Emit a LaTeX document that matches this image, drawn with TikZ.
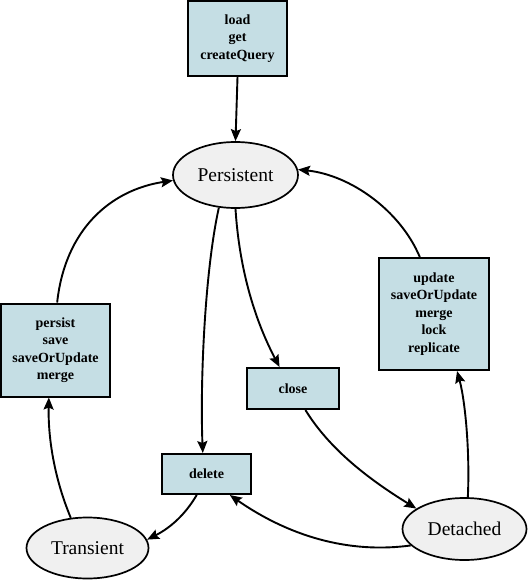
\documentclass[tikz,border=0pt]{standalone}
\usepackage{fontspec}
\setmainfont{Liberation Serif}
\usetikzlibrary{arrows.meta, shapes.geometric}
\definecolor{boxBlue}{RGB}{197,222,228}
\definecolor{stateGray}{RGB}{240,240,240}
\begin{document}
\begin{tikzpicture}[x=1pt, y=-1pt,
    opBox/.style={draw=black, line width=2pt, fill=boxBlue, inner sep=0pt, align=center,
        font=\fontsize{14}{17.5}\selectfont\bfseries},
    stateOval/.style={draw=black, line width=1.7pt, fill=stateGray, ellipse, inner sep=0pt,
        font=\fontsize{19.5}{23}\selectfont},
    flow/.style={line width=1.9pt, -{Stealth[length=12pt, width=10pt, inset=2pt]}}]
\useasboundingbox (0,0) rectangle (527,580);

\node[opBox, minimum width=99pt, minimum height=75pt] (loadBox) at (237.5,38.5) {load\\get\\createQuery};
\node[stateOval, minimum width=125pt, minimum height=66pt] (persistentState) at (235.5,175) {Persistent};
\node[opBox, minimum width=109pt, minimum height=93pt] (persistBox) at (55.5,350) {persist\\save\\saveOrUpdate\\merge};
\node[opBox, minimum width=89pt, minimum height=40pt] (deleteBox) at (206.5,474) {delete};
\node[opBox, minimum width=92pt, minimum height=41pt] (closeBox) at (293,388.5) {close};
\node[opBox, minimum width=110pt, minimum height=112pt] (updateBox) at (434,314) {update\\saveOrUpdate\\merge\\lock\\replicate};
\node[stateOval, minimum width=122pt, minimum height=61pt] (transientState) at (87.5,548) {Transient};
\node[stateOval, minimum width=124pt, minimum height=62pt] (detachedState) at (464.5,529) {Detached};

\draw[flow] (loadBox.south) -- (persistentState.north);
\draw[flow] (persistentState.243) .. controls (205,270) and (200,380) .. (deleteBox.100);
\draw[flow] (persistentState.south) .. controls (240,280) and (260,330) .. (closeBox.122);
\draw[flow] (closeBox.300) .. controls (330,450) and (370,480) .. (detachedState.157);
\draw[flow] (detachedState.197) .. controls (340,555) and (280,530) .. (deleteBox.318);
\draw[flow] (deleteBox.245) .. controls (185,515) and (170,528) .. (transientState.8);
\draw[flow] (transientState.119) .. controls (55,480) and (48,440) .. (persistBox.262);
\draw[flow] (persistBox.88) .. controls (65,230) and (110,190) .. (persistentState.185);
\draw[flow] (detachedState.84) .. controls (470,450) and (465,400) .. (updateBox.292);
\draw[flow] (updateBox.104) .. controls (400,210) and (350,175) .. (persistentState.5);

\end{tikzpicture}
\end{document}
